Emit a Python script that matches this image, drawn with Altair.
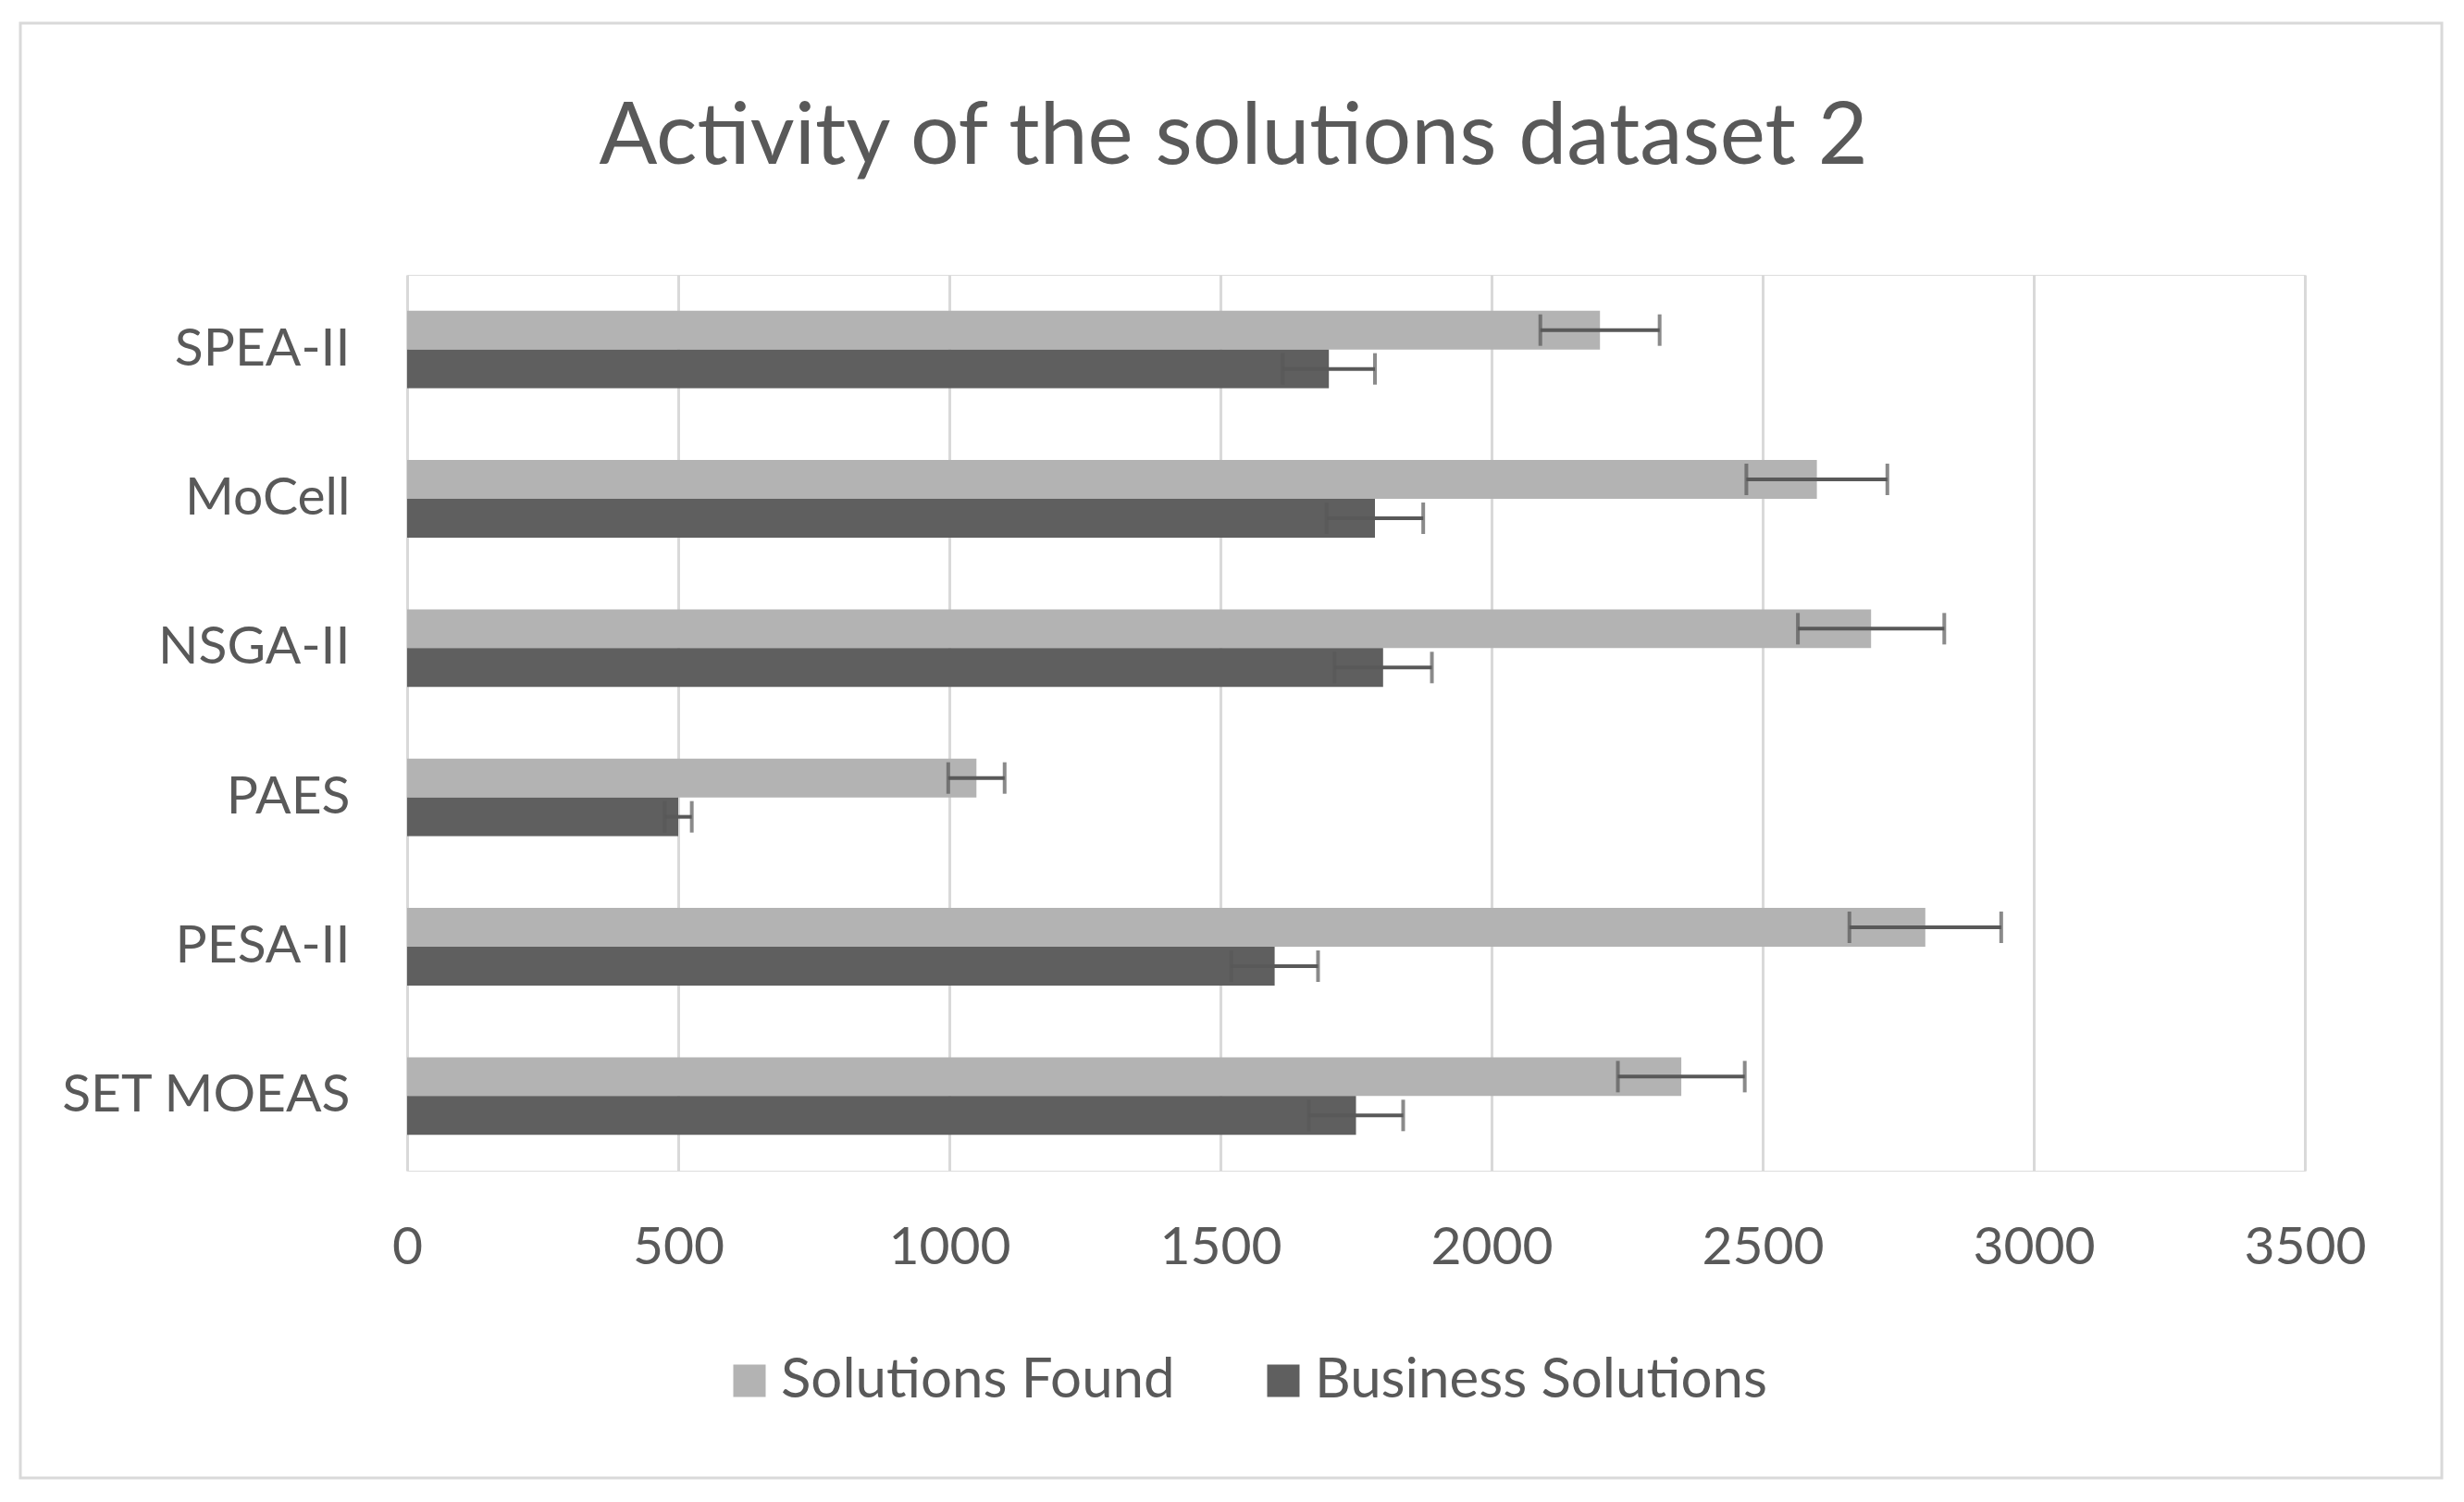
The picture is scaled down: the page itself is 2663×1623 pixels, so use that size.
import altair as alt
import pandas as pd

# ---- data ----
algorithms = ["SPEA-II", "MoCell", "NSGA-II", "PAES", "PESA-II", "SET MOEAS"]
series_names = ["Solutions Found", "Business Solutions"]
solutions_found = [2200, 2600, 2700, 1050, 2800, 2350]
solutions_found_err = [110, 130, 135, 52, 140, 117]
business_solutions = [1700, 1785, 1800, 500, 1600, 1750]
business_solutions_err = [85, 89, 90, 25, 80, 87]
x_ticks = [0, 500, 1000, 1500, 2000, 2500, 3000, 3500]
title_text = "Activity of the solutions dataset 2"

rows = []
for i, a in enumerate(algorithms):
    rows.append({"algorithm": a, "series": series_names[0],
                 "value": solutions_found[i], "err": solutions_found_err[i]})
    rows.append({"algorithm": a, "series": series_names[1],
                 "value": business_solutions[i], "err": business_solutions_err[i]})
df = pd.DataFrame(rows)
df["lo"] = df["value"] - df["err"]
df["hi"] = df["value"] + df["err"]

FONT = "Lato"
TEXT = "#595959"
W, H = 2051, 968
LBL = 57

y_enc = alt.Y("algorithm:N", sort=algorithms,
              scale=alt.Scale(paddingInner=0.48, paddingOuter=0.24),
              axis=alt.Axis(title=None, ticks=False, domain=False, grid=False,
                            labelFontSize=LBL, labelColor=TEXT, labelFont=FONT,
                            labelPadding=62, labelLimit=0))
yoff = alt.YOffset("series:N", sort=series_names,
                   scale=alt.Scale(paddingInner=0, paddingOuter=0))

base = alt.Chart(df)

bars = base.mark_bar().encode(
    x=alt.X("value:Q",
            scale=alt.Scale(domain=[0, 3500], nice=False),
            axis=alt.Axis(title=None, values=x_ticks, ticks=False, domain=False,
                          grid=True, gridColor="#d9d9d9", gridWidth=3,
                          labelFontSize=LBL, labelColor=TEXT, labelFont=FONT,
                          labelPadding=55, labelFlush=False, format="d")),
    y=y_enc,
    yOffset=yoff,
    color=alt.Color("series:N", sort=series_names,
                    scale=alt.Scale(domain=series_names,
                                    range=["#b3b3b3", "#5f5f5f"]),
                    legend=alt.Legend(title=None, orient="none",
                                      direction="horizontal",
                                      legendX=340, legendY=1165,
                                      symbolType="square", symbolSize=1225,
                                      symbolStrokeWidth=0,
                                      labelFontSize=60, labelColor=TEXT,
                                      labelFont=FONT, labelOffset=4,
                                      labelLimit=0, columnPadding=87)),
)

err_line = base.mark_rule(color="#595959", strokeWidth=4).encode(
    x="lo:Q", x2="hi:Q", y=alt.Y("algorithm:N", sort=algorithms), yOffset=yoff)

cap_lo = base.mark_tick(color="#595959", thickness=4, size=34).encode(
    x="lo:Q", y=alt.Y("algorithm:N", sort=algorithms), yOffset=yoff)
cap_hi = base.mark_tick(color="#595959", thickness=4, size=34).encode(
    x="hi:Q", y=alt.Y("algorithm:N", sort=algorithms), yOffset=yoff)

frame = alt.Chart(pd.DataFrame({"f": [0]})).mark_rect(
    fill="transparent", stroke="#d9d9d9", strokeWidth=3).encode(
    x=alt.value(22 - 440), x2=alt.value(2639 - 440),
    y=alt.value(25 - 297), y2=alt.value(1597 - 297))

title = alt.Chart(pd.DataFrame({"t": [title_text]})).mark_text(
    font=FONT, fontSize=93, color=TEXT, align="center",
    baseline="alphabetic").encode(
    text="t:N", x=alt.value(1333 - 440), y=alt.value(177 - 297))

chart = alt.layer(frame, title, bars, err_line, cap_lo, cap_hi).properties(
    width=W, height=H,
    autosize=alt.AutoSizeParams(type="none"),
    padding={"left": 432, "top": 289, "right": 150, "bottom": 340},
).configure_view(stroke=None).configure(background="white")

chart.save("out.html", embed_options={"renderer": "svg", "actions": False})
